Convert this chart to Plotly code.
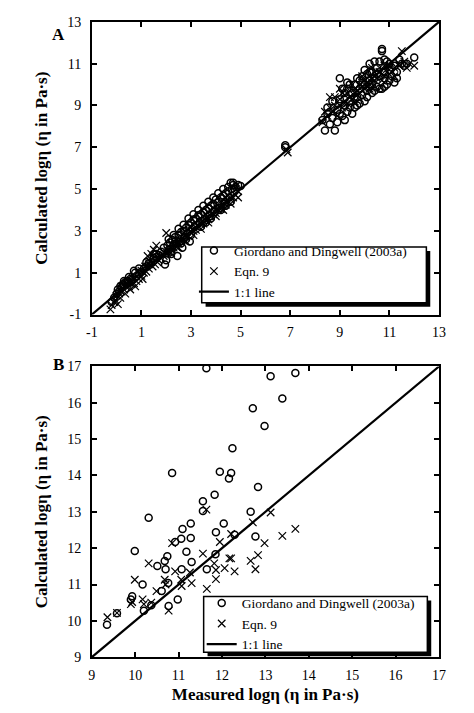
import plotly.graph_objects as go

W, H = 474, 713

# ---------------- Panel A data ----------------
a_circ_x = [-0.2, -0.1, 0.0, 0.05, 0.1, 0.15, 0.2, 0.25, 0.3, 0.35, 0.4, 0.45, 0.5, 0.55, 0.6, 0.7, 0.75, 0.8, 0.9, 1.0,
            1.1, 1.2, 1.3, 1.4, 1.5, 1.6, 1.7, 1.8, 1.95, 2.0, 2.05, 2.1, 2.15, 2.2, 2.25, 2.3, 2.35, 2.4, 2.45, 2.5,
            2.55, 2.6, 2.65, 2.7, 2.75, 2.8, 2.85, 2.9, 2.95, 3.0, 3.05, 3.1, 3.15, 3.2, 3.3, 3.35, 3.4, 3.5, 3.55, 3.6,
            3.7, 3.75, 3.8, 3.9, 3.95, 4.0, 4.1, 4.15, 4.2, 4.3, 4.35, 4.4, 4.5, 4.55, 4.6, 4.65, 4.7, 4.8, 4.9, 5.0,
            1.6, 1.9, 2.1, 2.3, 2.5, 2.7, 2.9, 3.1, 3.3, 3.5, 3.7, 3.9, 4.1, 4.3, 4.5, 4.7, 2.2, 2.6, 3.0, 3.4,
            3.8, 4.2, 4.6, 0.3, 0.5, 0.9, 1.2, 1.5, 2.8, 3.6, 4.4,
            6.8, 6.8,
            8.4, 8.8, 8.6, 8.7, 8.5, 8.9, 8.9, 9.0, 9.0, 9.1, 9.2, 9.2, 9.3, 9.3, 9.4, 9.5, 9.5, 9.6, 9.6, 9.7,
            9.7, 9.8, 9.8, 9.9, 9.9, 10.0, 10.0, 10.1, 10.1, 10.2, 10.2, 10.3, 10.3, 10.4, 10.4, 10.5, 10.5, 10.6, 10.6, 10.7,
            10.7, 10.7, 10.8, 10.8, 10.9, 11.0, 11.0, 11.1, 11.2, 11.3, 11.5, 11.6, 11.7, 12.0, 8.3, 9.4, 10.2, 11.2,
            8.5, 8.7, 9.0, 9.1, 9.3, 9.4, 9.6, 9.8, 9.9, 10.0, 10.2, 10.3, 10.5, 10.6, 10.8, 10.9, 11.1, 11.3, 11.4,
            9.2, 9.7, 10.1, 10.4, 10.8, 11.0]
a_circ_y = [-0.4, -0.2, 0.0, 0.2, 0.1, 0.35, 0.3, 0.45, 0.4, 0.55, 0.5, 0.6, 0.55, 0.7, 0.65, 1.1, 1.0, 0.85, 0.95, 1.05,
            1.2, 1.3, 1.45, 1.5, 1.7, 1.75, 1.85, 2.0, 1.4, 1.6, 2.3, 2.1, 2.45, 1.9, 2.55, 2.3, 2.7, 2.4, 1.8, 2.8,
            2.5, 2.95, 2.2, 3.0, 2.7, 3.15, 2.9, 3.3, 2.5, 3.4, 3.1, 3.55, 3.2, 3.6, 3.75, 3.4, 3.8, 3.9, 3.5, 4.0,
            4.1, 3.7, 4.2, 4.3, 3.9, 4.5, 4.4, 4.1, 4.6, 4.7, 4.3, 4.8, 4.9, 4.6, 5.3, 5.0, 5.2, 5.1, 5.2, 5.15,
            1.9, 2.2, 2.6, 2.8, 3.1, 3.3, 3.6, 3.8, 4.0, 4.2, 4.4, 4.6, 4.8, 5.0, 5.1, 5.3, 2.0, 2.4, 2.8, 3.2,
            3.6, 4.0, 4.4, 0.6, 0.8, 1.2, 1.5, 1.9, 2.6, 3.4, 4.2,
            7.1, 7.0,
            7.8, 7.8, 8.1, 8.4, 8.6, 8.2, 8.8, 10.3, 9.3, 8.5, 9.0, 9.6, 8.7, 9.8, 9.2, 8.6, 9.6, 8.9, 10.0, 9.4,
            9.0, 9.8, 10.2, 9.5, 10.4, 9.2, 10.0, 10.5, 9.7, 10.2, 9.9, 10.6, 9.6, 11.1, 10.3, 10.8, 9.9, 11.1, 10.4, 11.7,
            11.6, 9.8, 10.6, 11.2, 10.0, 10.7, 11.0, 10.4, 10.9, 10.6, 11.0, 10.9, 11.0, 11.3, 8.3, 10.0, 10.6, 10.1,
            8.9, 9.2, 8.6, 9.8, 10.1, 8.9, 9.3, 9.1, 10.0, 10.7, 11.0, 10.0, 10.5, 9.8, 10.3, 11.1, 10.8, 10.3, 11.2,
            8.3, 10.3, 9.4, 9.7, 9.9, 10.2]

a_cross_x = [-0.25, -0.2, -0.1, -0.05, 0.0, 0.05, 0.1, 0.15, 0.2, 0.3, 0.35, 0.4, 0.5, 0.55, 0.6, 0.7, 0.75, 0.8, 0.9, 1.0,
             1.05, 1.1, 1.2, 1.25, 1.3, 1.4, 1.45, 1.5, 1.55, 1.6, 1.65, 1.7, 1.8, 1.9, 2.0, 2.05, 2.1, 2.2, 2.3, 2.4,
             2.5, 2.6, 2.7, 2.8, 2.9, 3.0, 3.1, 3.2, 3.3, 3.4, 3.5, 3.6, 3.7, 3.8, 3.9, 4.0, 4.1, 4.2, 4.3, 4.4,
             4.5, 4.6, 4.7, 4.8, 4.9, 2.2, 3.3, 4.4,
             1.0, 1.3, 1.6, 1.9, 2.2, 2.5, 2.8, 3.1, 3.4, 3.7, 4.0, 4.3, 4.6, 4.9, 2.4, 2.7, 3.0, 3.6, 3.9, 4.2,
             4.5, 4.8, 0.2, 0.45, 0.65, 1.15, 1.35,
             6.85, 6.9,
             8.3, 8.5, 8.6, 8.7, 8.8, 8.9, 9.0, 9.1, 9.2, 9.3, 9.4, 9.5, 9.6, 9.7, 9.8, 9.9, 10.0, 10.1, 10.2, 10.3,
             10.4, 10.5, 10.6, 10.7, 10.8, 10.9, 11.0, 11.2, 11.4, 11.5, 11.7, 11.8, 12.0, 9.0, 9.6, 10.2,
             8.4, 8.6, 8.8, 9.0, 9.2, 9.4, 9.6, 9.8, 10.0, 10.2, 10.4, 10.6, 10.8, 11.0, 11.2, 11.4, 11.6,
             9.1, 9.5, 9.9, 10.3, 10.7]
a_cross_y = [-0.75, -0.55, -0.4, -0.3, -0.1, -0.5, 0.0, -0.2, 0.1, 0.2, 0.0, 0.3, 0.35, 0.2, 0.45, 0.5, 0.35, 0.6, 0.7, 0.85,
             0.7, 1.0, 1.05, 1.8, 1.2, 1.9, 1.3, 2.1, 1.4, 2.3, 1.5, 1.6, 1.7, 1.8, 2.9, 1.9, 2.0, 2.1, 2.2, 2.25,
             2.4, 2.5, 2.55, 2.7, 2.75, 2.9, 3.0, 3.05, 3.2, 3.3, 3.35, 3.5, 3.55, 3.7, 3.8, 3.85, 4.0, 4.05, 4.2, 4.25,
             4.4, 4.5, 4.6, 4.7, 4.9, 2.4, 3.5, 4.6,
             1.1, 1.4, 1.7, 2.0, 1.95, 2.2, 2.5, 2.8, 3.1, 3.4, 3.7, 4.0, 4.3, 4.6, 2.6, 2.9, 3.2, 3.8, 4.1, 4.4,
             4.7, 5.0, 0.35, 0.6, 0.75, 1.3, 1.55,
             6.9, 6.75,
             8.2, 8.5, 9.4, 8.7, 9.0, 8.5, 9.3, 8.9, 9.5, 9.1, 9.7, 9.3, 9.8, 9.5, 10.0, 9.7, 10.2, 9.9, 10.4, 10.1,
             10.6, 10.3, 10.8, 10.5, 10.9, 10.6, 10.5, 10.4, 10.9, 11.6, 10.8, 11.0, 10.9, 9.8, 9.2, 9.8,
             8.7, 8.9, 9.4, 9.0, 9.1, 9.4, 9.6, 9.6, 9.8, 10.0, 10.2, 10.6, 10.4, 10.9, 10.8, 11.0, 11.1,
             9.6, 10.0, 10.4, 10.8, 10.2]

a_range = [-1, 13]
a_ticks = [-1, 1, 3, 5, 7, 9, 11, 13]
a_ticktext = ["-1", "1", "3", "5", "7", "9", "11", "13"]

# ---------------- Panel B data ----------------
b_circ_x = [9.35, 9.58, 9.90, 9.93, 9.99, 10.17, 10.20, 10.31, 10.37, 10.51, 10.61, 10.68, 10.70, 10.74, 10.76, 10.77,
            10.92, 10.98, 11.06, 11.07, 11.09, 11.18, 11.28, 11.28, 11.30, 11.56, 11.65, 11.85, 11.86, 12.04, 12.29,
            12.66, 12.77,
            11.64, 13.12, 13.69, 13.39, 12.71, 12.98, 12.24, 10.85, 11.95, 12.21, 12.16, 12.83, 11.83, 11.56]
b_circ_y = [9.89, 10.21, 10.59, 10.68, 11.92, 11.00, 10.28, 12.84, 10.43, 11.51, 10.82, 11.65, 11.42, 11.78, 11.04, 10.41,
            12.17, 10.59, 12.26, 11.42, 12.53, 11.90, 12.68, 12.28, 11.62, 13.02, 11.42, 11.83, 12.44, 12.68, 12.37,
            13.00, 12.32,
            16.95, 16.73, 16.82, 16.12, 15.85, 15.36, 14.75, 14.07, 14.10, 14.07, 13.92, 13.68, 13.47, 13.29]

b_cross_x = [9.36, 9.58, 9.90, 9.93, 9.99, 10.17, 10.20, 10.31, 10.37, 10.49, 10.68, 10.70, 10.77, 10.85, 10.92, 11.06,
             11.07, 11.26, 11.30, 11.56, 11.64, 11.65, 11.82, 11.86, 11.86, 11.95, 12.06, 12.17, 12.21, 12.21, 12.29,
             12.66, 12.71, 12.77, 12.83, 12.98, 13.12, 13.39, 13.69]
b_cross_y = [10.10, 10.22, 10.46, 10.52, 11.13, 10.59, 10.46, 11.58, 10.50, 10.82, 11.13, 11.00, 10.28, 12.14, 11.36, 11.13,
             10.96, 11.33, 11.04, 11.85, 13.06, 10.88, 11.58, 11.15, 11.40, 12.17, 11.45, 11.72, 11.72, 12.39, 11.36,
             11.65, 12.71, 11.42, 11.81, 12.14, 12.98, 12.34, 12.53]

b_range = [9, 17]

legend_names = ["Giordano and Dingwell (2003a)", "Eqn. 9", "1:1 line"]
y_title = "Calculated log\u03b7 (\u03b7 in Pa\u00b7s)"
x_title = "Measured log\u03b7 (\u03b7 in Pa\u00b7s)"

FONT = "Liberation Serif, Times New Roman, serif"


def px(x):
    return x / W


def py(y):
    return 1 - y / H


circ_marker = dict(symbol="circle-open", size=7, color="black", line=dict(width=1.5, color="black"))
cross_marker = dict(symbol="x-thin-open", size=7.5, color="black", line=dict(width=1.2, color="black"))

fig = go.Figure()

# Panel A
fig.add_trace(go.Scatter(x=a_circ_x, y=a_circ_y, mode="markers", marker=circ_marker, name=legend_names[0],
                         xaxis="x", yaxis="y", legend="legend", cliponaxis=False))
fig.add_trace(go.Scatter(x=a_cross_x, y=a_cross_y, mode="markers", marker=cross_marker, name=legend_names[1],
                         xaxis="x", yaxis="y", legend="legend", cliponaxis=False))
fig.add_trace(go.Scatter(x=a_range, y=a_range, mode="lines", line=dict(color="black", width=2.2), name=legend_names[2],
                         xaxis="x", yaxis="y", legend="legend"))
# Panel B
fig.add_trace(go.Scatter(x=b_circ_x, y=b_circ_y, mode="markers", marker=circ_marker, name=legend_names[0],
                         xaxis="x2", yaxis="y2", legend="legend2", cliponaxis=False))
fig.add_trace(go.Scatter(x=b_cross_x, y=b_cross_y, mode="markers", marker=cross_marker, name=legend_names[1],
                         xaxis="x2", yaxis="y2", legend="legend2", cliponaxis=False))
fig.add_trace(go.Scatter(x=b_range, y=b_range, mode="lines", line=dict(color="black", width=2.2), name=legend_names[2],
                         xaxis="x2", yaxis="y2", legend="legend2"))

axis_common = dict(ticks="inside", ticklen=5, tickwidth=1.5, tickcolor="black", showline=True, linewidth=1.5,
                   linecolor="black", mirror="ticks", showgrid=False, zeroline=False,
                   tickfont=dict(family=FONT, size=14, color="black"))
title_font = dict(family=FONT, size=17, color="black", weight="bold")

dom_x = [px(80), px(437)]
fig.update_layout(
    width=W, height=H, margin=dict(l=0, r=0, t=0, b=0),
    paper_bgcolor="white", plot_bgcolor="white",
    font=dict(family=FONT, color="black"),
    xaxis=dict(domain=dom_x, anchor="y", range=a_range, tickvals=a_ticks, ticktext=a_ticktext,
               ticklabelstandoff=4, **axis_common),
    yaxis=dict(domain=[py(306), py(7)], anchor="x", range=a_range, tickvals=a_ticks, ticktext=a_ticktext,
               ticklabelstandoff=6, title=dict(text=y_title, font=title_font, standoff=15), **axis_common),
    xaxis2=dict(domain=dom_x, anchor="y2", range=b_range, dtick=1, ticklabelstandoff=4,
                title=dict(text=x_title, font=title_font, standoff=6), **axis_common),
    yaxis2=dict(domain=[py(656), py(359)], anchor="x2", range=b_range, dtick=1, ticklabelstandoff=6,
                title=dict(text=y_title, font=title_font, standoff=15), **axis_common),
    legend=dict(x=px(185), y=py(225), xanchor="left", yanchor="top", bgcolor="rgba(0,0,0,0)", borderwidth=0,
                font=dict(family=FONT, size=13.5, color="black"), tracegroupgap=0),
    legend2=dict(x=px(193), y=py(585), xanchor="left", yanchor="top", bgcolor="rgba(0,0,0,0)", borderwidth=0,
                 font=dict(family=FONT, size=13.5, color="black"), tracegroupgap=0),
    showlegend=True,
)

# legend boxes with drop shadows
for (x0, y0, x1, y1) in [(193, 237, 424, 294), (195, 594, 425, 651)]:
    fig.add_shape(type="rect", xref="paper", yref="paper", x0=px(x0 + 4), x1=px(x1 + 4), y0=py(y0 + 4), y1=py(y1 + 4),
                  fillcolor="black", line=dict(width=0), layer="above")
    fig.add_shape(type="rect", xref="paper", yref="paper", x0=px(x0), x1=px(x1), y0=py(y0), y1=py(y1),
                  fillcolor="white", line=dict(width=1.5, color="black"), layer="above")

for letter, (lx, ly) in [("A", (37, 8)), ("B", (38, 357))]:
    fig.add_annotation(text=letter, x=px(lx), y=py(ly), xref="paper", yref="paper", showarrow=False,
                       font=dict(family=FONT, size=17, color="black", weight="bold"))

fig.write_html("out.html")
